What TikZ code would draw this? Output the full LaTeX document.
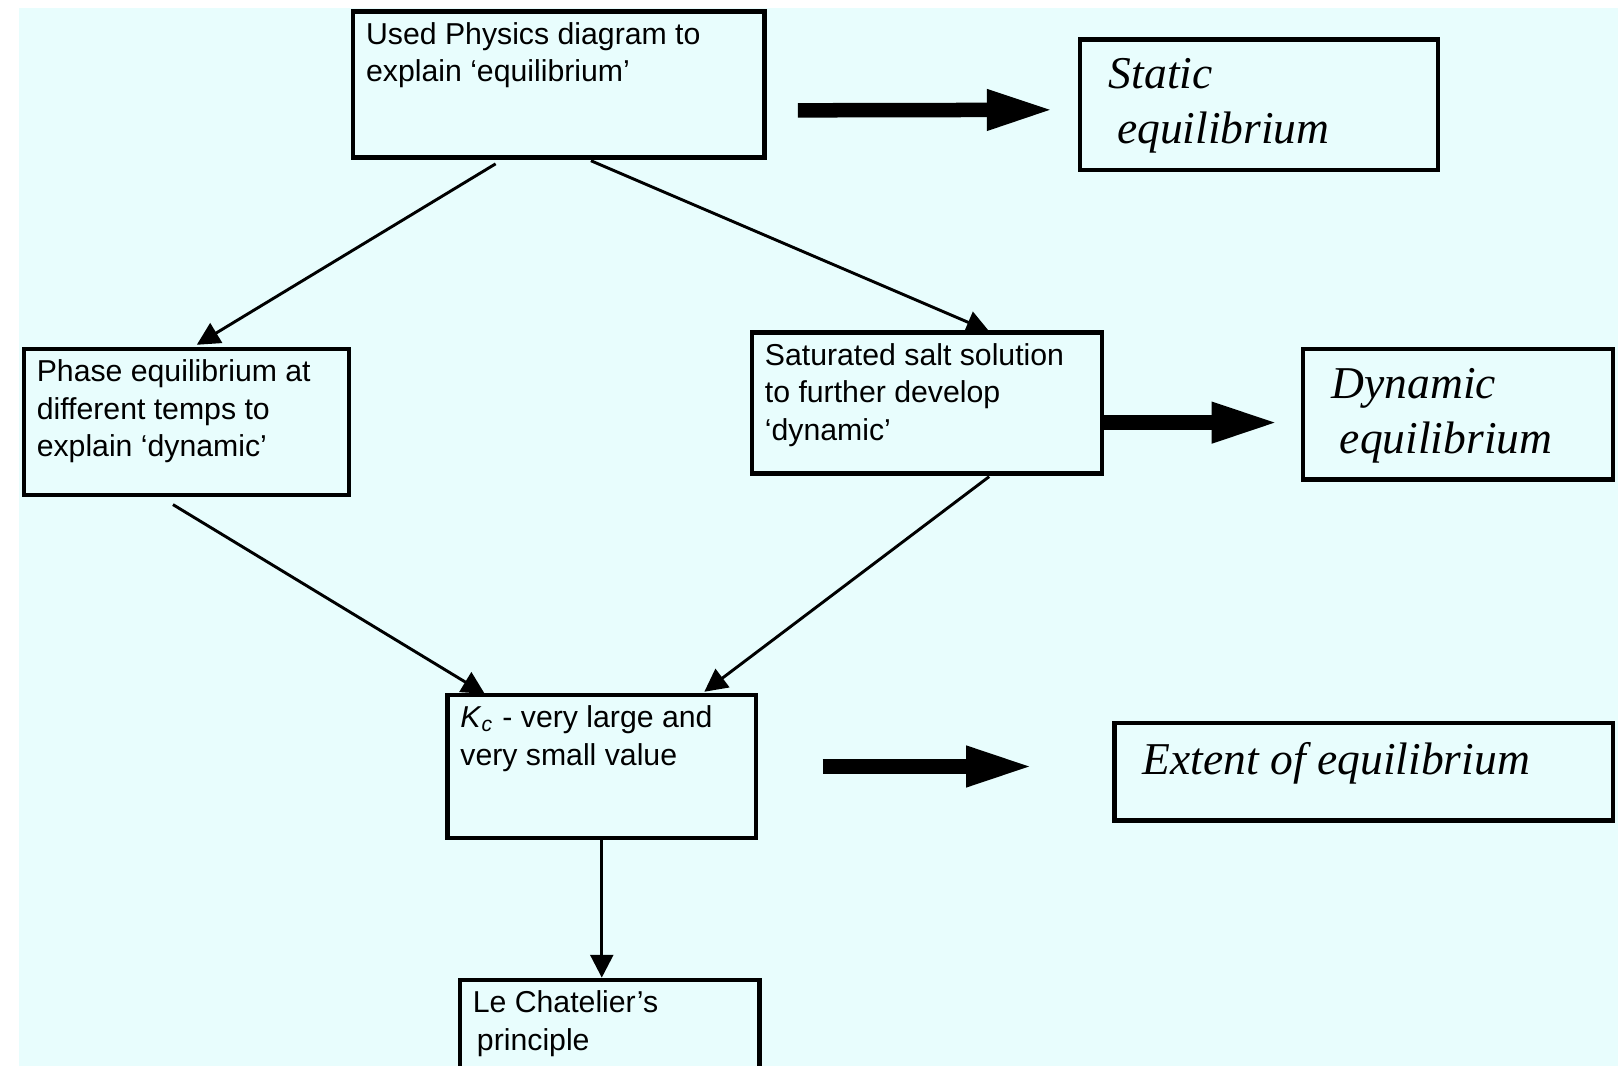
\documentclass[tikz,border=0pt]{standalone}
\usepackage{fontspec}
\setmainfont{Liberation Sans}
\newfontfamily\serifit{Liberation Serif}
\usetikzlibrary{arrows.meta,positioning,calc}
\definecolor{paper}{RGB}{232,253,253}

\tikzset{
  box/.style={draw, line width=1.2pt, rectangle, inner sep=0pt},
  txt/.style={anchor=north west, inner sep=0pt, align=left, font=\fontsize{8.3}{10.3}\selectfont},
  big/.style={anchor=north west, inner sep=0pt, align=left, font=\serifit\itshape\fontsize{12.5}{15}\selectfont},
  link/.style={line width=0.8pt, -{Triangle[length=0.22cm,width=0.22cm]}},
  fat/.style={line width=0.14cm, -{Triangle[length=0.65cm,width=0.36cm]}}
}

\begin{document}
\begin{tikzpicture}[x=0.01cm, y=-0.01cm]
    \useasboundingbox (0,0) rectangle (1565,1029);
    \fill[paper] (18,8) rectangle (1562,1029);

    % Boxes
    \node[box, minimum width=3.97cm, minimum height=1.41cm,
      label={[txt, xshift=0.14cm, yshift=-0.12cm]north west:Used Physics diagram to\\explain ‘equilibrium’}]
      (physics) at (539.5,81.5) {};
    \node[box, minimum width=3.45cm, minimum height=1.26cm,
      label={[big, xshift=0.29cm, yshift=-0.2cm]north west:Static\\\hspace{0.08cm}equilibrium}]
      (static) at (1215.5,101) {};
    \node[box, minimum width=3.14cm, minimum height=1.41cm,
      label={[txt, xshift=0.14cm, yshift=-0.12cm]north west:Phase equilibrium at\\different temps to\\explain ‘dynamic’}]
      (phase) at (180,407.5) {};
    \node[box, minimum width=3.38cm, minimum height=1.36cm,
      label={[txt, xshift=0.14cm, yshift=-0.12cm]north west:Saturated salt solution\\to further develop\\‘dynamic’}]
      (salt) at (895,389) {};
    \node[box, minimum width=2.99cm, minimum height=1.26cm,
      label={[big, xshift=0.29cm, yshift=-0.2cm]north west:Dynamic\\\hspace{0.08cm}equilibrium}]
      (dynamic) at (1407.5,400) {};
    \node[box, minimum width=2.98cm, minimum height=1.38cm,
      label={[txt, xshift=0.14cm, yshift=-0.12cm]north west:\textit{K}\textsubscript{\textit{c}} - very large and\\very small value}]
      (kc) at (581,740) {};
    \node[box, minimum width=4.81cm, minimum height=0.94cm,
      label={[big, xshift=0.29cm, yshift=-0.2cm]north west:Extent of equilibrium}]
      (extent) at (1316.5,745) {};
    \node[box, minimum width=2.89cm, minimum height=1.0cm,
      label={[txt, xshift=0.14cm, yshift=-0.12cm]north west:Le Chatelier’s\\\hspace{0.04cm}principle}]
      (chatelier) at (588.5,996) {};

    % Thick arrows
    \draw[fat] ($(physics.east)+(30,25)$) -- ($(static.west)+(-23,5)$);
    \draw[fat] ($(salt.east)+(0,19)$) -- ($(dynamic.west)+(-21,8)$);
    \draw[fat] ($(kc.east)+(62,0)$) -- ($(extent.west)+(-76,-5)$);

    % Thin arrows
    \draw[link] ($(physics.south)+(-61,4)$) -- ($(phase.north)+(10,-2)$);
    \draw[link] ($(physics.south)+(31,1)$) -- ($(salt.north)+(60,1)$);
    \draw[link] ($(phase.south)+(-13,7)$) -- ($(kc.north)+(-113,1)$);
    \draw[link] ($(salt.south)+(60,1)$) -- ($(kc.north)+(99,-1)$);
    \draw[link] (kc.south) -- (kc.south |- chatelier.north);
\end{tikzpicture}
\end{document}
